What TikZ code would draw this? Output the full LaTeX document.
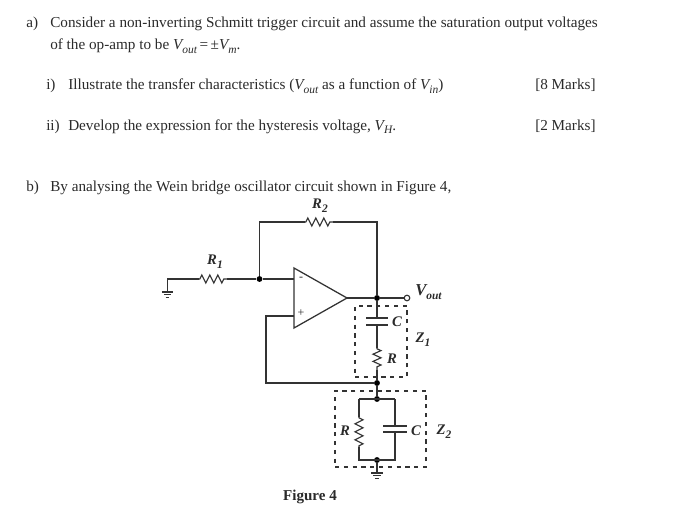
\documentclass[tikz,border=0pt]{standalone}
\usepackage{fontspec}
\setmainfont{Liberation Serif}
\usetikzlibrary{decorations.pathmorphing}
\definecolor{ink}{HTML}{2A2A2A}
\definecolor{wirec}{HTML}{333333}
\newcommand{\subi}[1]{\raisebox{-0.25em}{\fontsize{8.6}{9}\selectfont\itshape #1}}
\tikzset{
  txt/.style={anchor=base west,inner sep=0pt,text=ink,font=\fontsize{11.4}{12}\selectfont},
  lab/.style={inner sep=0pt,text=ink,font=\fontsize{11}{12}\selectfont\bfseries\itshape},
  wire/.style={draw=wirec,line width=0.95pt},
  resistor/.style={wire,line width=0.85pt,decorate,decoration={zigzag,amplitude=3pt,segment length=#1,pre length=0.6pt,post length=0.6pt}},
  resistor/.default=6pt,
  dashbox/.style={draw=wirec,line width=0.85pt,dash pattern=on 3.2pt off 3.4pt,inner sep=0pt},
  junction/.style={circle,fill=black,inner sep=0pt,minimum size=4.4pt},
  openpin/.style={circle,draw=wirec,fill=white,line width=0.85pt,inner sep=0pt,minimum size=4.2pt},
  plate/.style={wire,line width=1pt}
}
\newcommand{\gndsym}[1]{%
  \draw[wire] ([xshift=-4.2pt]#1) -- ([xshift=4.2pt]#1);
  \draw[wire] ([xshift=-2.8pt,yshift=-2pt]#1) -- ([xshift=2.8pt,yshift=-2pt]#1);
  \draw[wire] ([xshift=-1.4pt,yshift=-4pt]#1) -- ([xshift=1.4pt,yshift=-4pt]#1);}
\begin{document}
\begin{tikzpicture}[x=0.75pt,y=-0.75pt]
\useasboundingbox (0,0) rectangle (700,517);
% text
\node[txt] (ta) at (26,28) {a)};
\node[txt] (ta1) at (50,28) {Consider a non-inverting Schmitt trigger circuit and assume the saturation output voltages};
\node[txt] (ta2) at (50,50) {of the op-amp to be \textit{V\subi{out}}\,=\,±\textit{V\subi{m}}.};
\node[txt] (ti) at (46,89.5) {i)};
\node[txt] (ti1) at (68,89.5) {Illustrate the transfer characteristics (\textit{V\subi{out}} as a function of \textit{V\subi{in}})};
\node[txt] (tm1) at (535,89.5) {[8 Marks]};
\node[txt] (tii) at (46,130) {ii)};
\node[txt] (tii1) at (68,130) {Develop the expression for the hysteresis voltage, \textit{V\subi{H}}.};
\node[txt] (tm2) at (535,130) {[2 Marks]};
\node[txt] (tb) at (26,191) {b)};
\node[txt] (tb1) at (50,191) {By analysing the Wein bridge oscillator circuit shown in Figure 4,};
\node[lab,font=\fontsize{11.3}{12}\selectfont\bfseries] (fig) at (310,497) {Figure 4};
% coordinates
\coordinate (gl) at (167.5,279);
\coordinate (gl2) at (167.5,292);
\coordinate (r1a) at (199,279);
\coordinate (r1b) at (227,279);
\node[junction] (j1) at (259.5,279) {};
\coordinate (top1) at (259.5,222);
\coordinate (r2a) at (305,222);
\coordinate (r2b) at (333,222);
\coordinate (top2) at (377,222);
\coordinate (otl) at (294,268);
\coordinate (obl) at (294,328);
\coordinate (otip) at (347,298);
\coordinate (minus) at (294,279);
\coordinate (plus) at (294,316);
\coordinate (pl) at (266,316);
\coordinate (pb) at (266,383);
\node[junction] (j2) at (377,298) {};
\node[openpin] (vo) at (407,298) {};
\node[junction] (j3) at (377,383) {};
\node[junction] (j4) at (377,399) {};
\node[junction] (j5) at (377,460) {};
\coordinate (c1a) at (377,318);
\coordinate (c1b) at (377,325);
\coordinate (r3a) at (377,348);
\coordinate (r3b) at (377,370);
\coordinate (pl1) at (359,399);
\coordinate (pr1) at (395,399);
\coordinate (pl2) at (359,460);
\coordinate (pr2) at (395,460);
\coordinate (r4a) at (359,417);
\coordinate (r4b) at (359,447);
\coordinate (c2a) at (395,426);
\coordinate (c2b) at (395,432);
\coordinate (g2) at (377,473);
% dashed boxes
\node[dashbox,minimum width=39pt,minimum height=53.25pt] (z1box) at (381,341.5) {};
\node[dashbox,minimum width=68.25pt,minimum height=57pt] (z2box) at (380.5,429) {};
% wiring
\draw[wire] (gl2) -- (gl) -- (r1a);
\draw[resistor] (r1a) -- (r1b);
\draw[wire] (r1b) -- (j1) -- (minus);
\draw[wire] (j1) -- (top1) -- (r2a);
\draw[resistor] (r2a) -- (r2b);
\draw[wire] (r2b) -- (top2) -- (j2);
\draw[wire,line join=miter] (otl) -- (otip) -- (obl) -- cycle;
\draw[wire] (otip) -- (j2) -- (vo);
\draw[wire] (plus) -- (pl) -- (pb) -- (j3);
\draw[wire] (j2) -- (c1a);
\draw[plate] (366,318) -- (388,318);
\draw[plate] (366,325) -- (388,325);
\draw[wire] (c1b) -- (r3a);
\draw[resistor=5.4pt] (r3a) -- (r3b);
\draw[wire] (r3b) -- (j3) -- (j4);
\draw[wire] (pl1) -- (pr1);
\draw[wire] (pl1) -- (r4a);
\draw[resistor=6pt] (r4a) -- (r4b);
\draw[wire] (r4b) -- (pl2) -- (pr2) -- (c2b);
\draw[wire] (pr1) -- (c2a);
\draw[plate] (383,426) -- (407,426);
\draw[plate] (383,432) -- (407,432);
\draw[wire] (j5) -- (g2);
\gndsym{gl2}
\gndsym{g2}
% opamp signs
\node[lab,font=\fontsize{9}{9}\selectfont] (msign) at (301,279) {-};
\node[lab,font=\fontsize{9}{9}\selectfont] (psign) at (301,313.5) {+};
% labels
\node[lab] (lr1) at (215,262) {R\subi{1}};
\node[lab] (lr2) at (320,206) {R\subi{2}};
\node[lab,anchor=base west,font=\fontsize{12.5}{12}\selectfont\bfseries\itshape] (lvo) at (415,295) {V\subi{out}};
\node[lab] (lc1) at (397,322) {C};
\node[lab] (lr3) at (392,359) {R};
\node[lab] (lz1) at (423,340) {Z\subi{1}};
\node[lab] (lr4) at (345,431) {R};
\node[lab] (lc2) at (416,431) {C};
\node[lab] (lz2) at (444,432) {Z\subi{2}};
\end{tikzpicture}
\end{document}
